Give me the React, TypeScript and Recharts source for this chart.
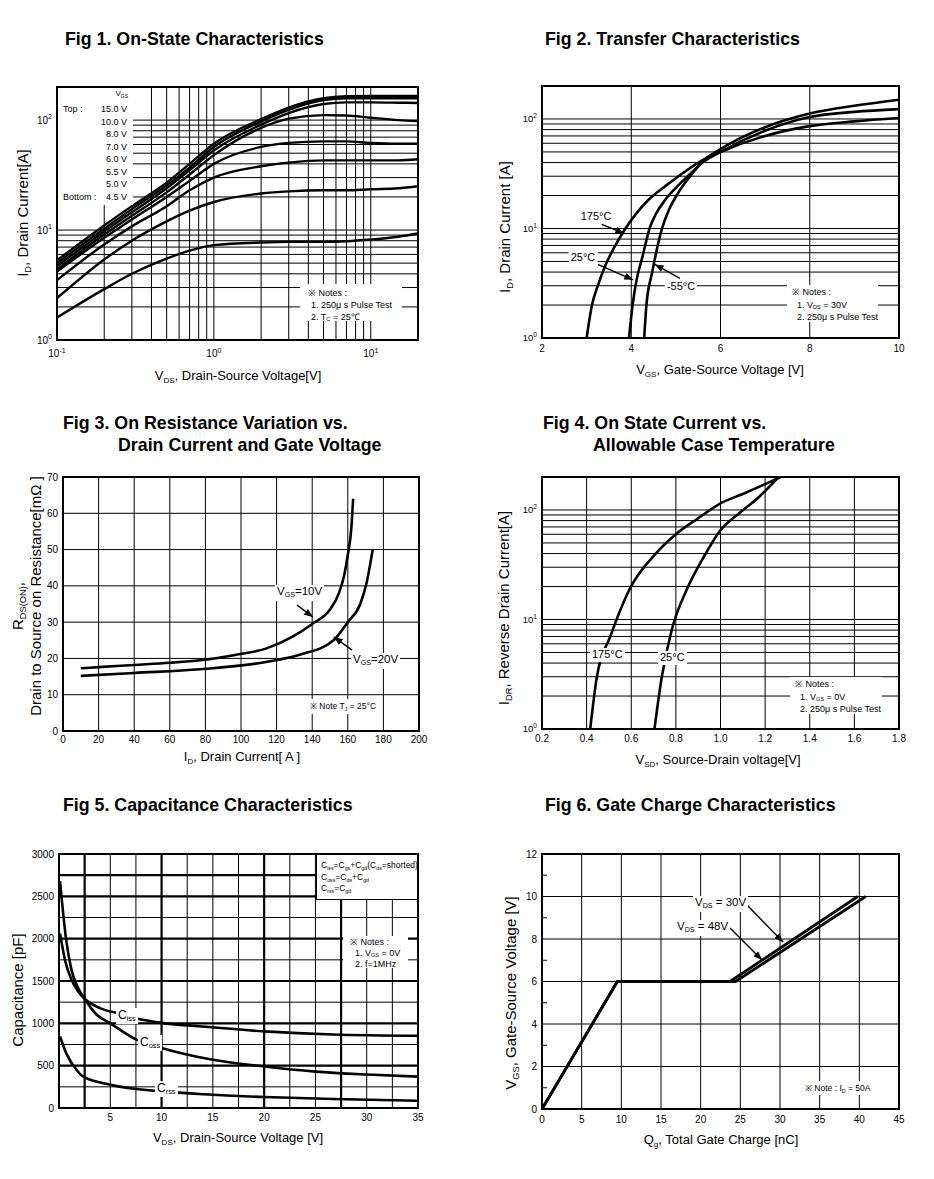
import React from "react";
import { LineChart, Line, XAxis, YAxis, ReferenceLine } from "recharts";

const FONT = "Arial, 'Liberation Sans', Helvetica, sans-serif";
const INK = "#000";

// ---- Fig 1: On-State Characteristics (log-log) ----
const F1_VDS = [0.1, 0.2, 0.3, 0.5, 0.7, 1, 2, 3, 5, 7, 10, 15, 20];
const F1_VGS = ["15.0 V", "10.0 V", "8.0 V", "7.0 V", "6.0 V", "5.5 V", "5.0 V", "4.5 V"];
const F1_ID_15V = [5.3, 11, 16.5, 27, 40, 61, 102, 130, 158, 165, 166, 166, 166];
const F1_ID_10V = [5.0, 10.3, 15.5, 25.5, 37, 57, 97, 124, 152, 158, 158, 158, 158];
const F1_ID_8V = [4.7, 9.7, 14.5, 24, 35, 53, 91, 116, 140, 145, 145, 144, 143];
const F1_ID_7V = [4.4, 9.1, 13.5, 22, 32, 48, 85, 103, 111, 110, 105, 100, 98];
const F1_ID_6V = [4.2, 8.5, 12.5, 20, 28, 40, 57, 62, 64, 64, 62, 61, 61];
const F1_ID_55V = [3.5, 7.4, 10.8, 16.5, 23, 30, 38, 41, 43, 43, 43, 43, 44];
const F1_ID_5V = [2.4, 5.4, 8, 12, 15, 18, 21.5, 22.5, 23, 23, 23.5, 24, 25];
const F1_ID_45V = [1.6, 2.9, 4.0, 5.5, 6.5, 7.3, 7.7, 7.8, 7.8, 7.9, 8.2, 8.7, 9.3];
const F1_SERIES = [F1_ID_15V, F1_ID_10V, F1_ID_8V, F1_ID_7V, F1_ID_6V, F1_ID_55V, F1_ID_5V, F1_ID_45V];
const F1_X_TICKS = [0.1, 1, 10];
const F1_X_GRID = [0.2, 0.3, 0.4, 0.5, 0.6, 0.7, 0.8, 0.9, 1, 2, 3, 4, 5, 6, 7, 8, 9, 10];
const LOG_Y_TICKS = [1, 10, 100];
const LOG_Y_GRID = [2, 3, 4, 5, 6, 7, 8, 9, 10, 20, 30, 40, 50, 60, 70, 80, 90, 100];

// ---- Fig 2: Transfer Characteristics ----
const F2_VGS_175 = [3.0, 3.12, 3.25, 3.42, 3.6, 3.87, 4.1, 4.4, 4.8, 5.2, 5.6, 6, 7, 8, 9, 10];
const F2_ID_175 = [1, 2, 3, 4.6, 6.5, 10, 13.5, 18.5, 25, 33, 42, 50, 70, 86, 95, 102];
const F2_VGS_25 = [3.95, 4.03, 4.12, 4.25, 4.41, 4.55, 4.75, 5.0, 5.3, 5.6, 6, 7, 8, 9, 10];
const F2_ID_25 = [1, 2, 3.4, 5.5, 10, 13.5, 18, 23.5, 31, 40, 50, 78, 104, 116, 123];
const F2_VGS_M55 = [4.29, 4.34, 4.47, 4.69, 4.85, 5.0, 5.2, 5.4, 5.6, 6, 7, 8, 9, 10];
const F2_ID_M55 = [1, 2, 4, 10, 15, 19.5, 26, 33, 41, 53, 84, 112, 132, 150];
const F2_X_TICKS = [2, 4, 6, 8, 10];
const F2_X_GRID = [4, 6, 8];
const F2_X_MINOR = [3, 5, 7, 9];

// ---- Fig 3: On Resistance vs Drain Current ----
const F3_ID_10V = [10, 20, 40, 60, 77, 96, 114, 129, 140, 150, 155, 158, 160, 162, 163];
const F3_R_10V = [17.3, 17.6, 18.2, 18.8, 19.5, 20.9, 22.7, 26, 29.5, 33.5, 38, 43, 48.5, 56, 64];
const F3_ID_20V = [10, 40, 77, 114, 133, 152, 160, 167, 170.5, 174];
const F3_R_20V = [15.2, 16, 17, 19, 21, 25, 30, 35, 40.7, 50];
const F3_X_TICKS = [0, 20, 40, 60, 80, 100, 120, 140, 160, 180, 200];
const F3_Y_TICKS = [0, 10, 20, 30, 40, 50, 60, 70];

// ---- Fig 4: Body diode forward voltage ----
const F4_VSD_175 = [0.416, 0.446, 0.506, 0.596, 0.715, 0.8, 0.9, 1.0, 1.1, 1.2, 1.27];
const F4_IDR_175 = [1, 3, 7, 19.5, 41, 60, 84, 115, 140, 172, 200];
const F4_VSD_25 = [0.704, 0.737, 0.782, 0.849, 0.924, 0.999, 1.088, 1.17, 1.26];
const F4_IDR_25 = [1, 3, 8.1, 18.8, 37, 65, 95, 130, 200];
const F4_X_TICKS = [0.2, 0.4, 0.6, 0.8, 1.0, 1.2, 1.4, 1.6, 1.8];
const F4_X_MINOR = [0.3, 0.5, 0.7, 0.9, 1.1, 1.3, 1.5, 1.7];

// ---- Fig 5: Capacitance ----
const F5_VDS_ISS = [0.1, 0.6, 1.2, 1.85, 2.5, 4, 5.9, 7.5, 10, 13.7, 20, 26.7, 35];
const F5_CISS = [2060, 1740, 1520, 1380, 1290, 1180, 1115, 1060, 1005, 965, 905, 868, 853];
const F5_VDS_OSS = [0.1, 0.7, 1.2, 1.85, 2.5, 3.6, 5, 7.5, 10, 15, 20, 25, 30, 35];
const F5_COSS = [2680, 1985, 1640, 1420, 1290, 1110, 1000, 810, 710, 570, 490, 430, 395, 370];
const F5_VDS_RSS = [0.1, 0.7, 1.7, 2.34, 5, 10, 15, 20, 26.7, 35];
const F5_CRSS = [845, 648, 452, 373, 275, 196, 157, 130, 106, 86];
const F5_X_TICKS = [5, 10, 15, 20, 25, 30, 35];
const F5_Y_TICKS = [0, 500, 1000, 1500, 2000, 2500, 3000];
const F5_X_THICK = [2.5, 10, 20, 27.5];
const F5_X_THIN = [5, 7.5, 12.5, 15, 17.5, 22.5, 25, 30, 32.5];
const F5_Y_THICK = [500, 1000, 1500, 2000, 2500, 2750];
const F5_Y_THIN = [250, 750, 1250, 1750, 2250];

// ---- Fig 6: Gate Charge ----
const F6_QG_30V = [0, 9.5, 23.7, 39.8];
const F6_VGS_30V = [0, 6, 6, 10];
const F6_QG_48V = [0, 9.5, 24.4, 40.8];
const F6_VGS_48V = [0, 6, 6, 10];
const F6_X_TICKS = [0, 5, 10, 15, 20, 25, 30, 35, 40, 45];
const F6_Y_TICKS = [0, 2, 4, 6, 8, 10, 12];
const F6_X_MINOR = [2.5, 7.5, 12.5, 17.5, 22.5, 27.5, 32.5, 37.5, 42.5];
const F6_Y_MINOR = [1, 3, 5, 7, 9, 11];

type Box = { left: number; top: number; width: number; height: number };
const PAD_L = 50;
const PAD_R = 16;
const PAD_T = 4;
const PAD_B = 30;
const TITLE = 17.8;
const XLAB = 13;
const YLAB = 15;

const zip = (xs: number[], ys: number[]) => xs.map((x, i) => ({ x, y: ys[i] }));

const vGrid = (vals: number[], w = 1, id = "g") =>
  vals.map((v) => <ReferenceLine key={`${id}x${v}`} x={v} stroke={INK} strokeWidth={w} />);
const hGrid = (vals: number[], w = 1, id = "g") =>
  vals.map((v) => <ReferenceLine key={`${id}y${v}`} y={v} stroke={INK} strokeWidth={w} />);

const arrow = (a: number[], b: number[], k: string) => (
  <ReferenceLine
    key={k}
    segment={[{ x: a[0], y: a[1] }, { x: b[0], y: b[1] }]}
    shape={(p: any) => (
      <line x1={p.x1} y1={p.y1} x2={p.x2} y2={p.y2} stroke={INK} strokeWidth={1.4} markerEnd="url(#ah)" />
    )}
  />
);

const curve = (xs: number[], ys: number[], k: string, type: any = "monotone", w = 2.6) => (
  <Line
    key={k}
    data={zip(xs, ys)}
    dataKey="y"
    type={type}
    stroke={INK}
    strokeWidth={w}
    dot={false}
    isAnimationActive={false}
  />
);

const NoTick = () => null;

function Tick(props: any) {
  const { x, y, payload, side, pow, fs = 10, off = 14, dec } = props;
  const v = payload.value;
  const body = pow ? (
    <>
      10
      <tspan dy={-fs * 0.45} fontSize={fs * 0.7}>
        {Math.round(Math.log10(v))}
      </tspan>
    </>
  ) : dec ? (
    v.toFixed(dec)
  ) : (
    String(v)
  );
  if (side === "x") {
    return (
      <text x={x} y={y + off} textAnchor="middle" fontSize={fs} fontFamily={FONT} fill={INK}>
        {body}
      </text>
    );
  }
  return (
    <text x={x - 5} y={y + fs * 0.36} textAnchor="end" fontSize={fs} fontFamily={FONT} fill={INK}>
      {body}
    </text>
  );
}

function Plot({ box, children }: { box: Box; children: React.ReactNode }) {
  return (
    <div style={{ position: "absolute", left: box.left - PAD_L, top: box.top - PAD_T }}>
      <LineChart
        width={box.width + PAD_L + PAD_R}
        height={box.height + PAD_T + PAD_B}
        margin={{ top: PAD_T, right: PAD_R, bottom: 0, left: 0 }}
      >
        {children}
      </LineChart>
    </div>
  );
}

const axisCommon = {
  type: "number" as const,
  allowDataOverflow: true,
  tickLine: false,
  axisLine: false,
  tickSize: 0,
  tickMargin: 0,
  interval: 0 as const,
};

const Frame = ({ box }: { box: Box }) => (
  <div
    style={{
      position: "absolute",
      left: box.left - 1,
      top: box.top - 1,
      width: box.width + 2,
      height: box.height + 2,
      border: "2px solid #000",
      boxSizing: "border-box",
      pointerEvents: "none",
    }}
  />
);

const Sub = ({ children }: { children: React.ReactNode }) => (
  <span style={{ fontSize: "0.62em", position: "relative", top: "0.32em" }}>{children}</span>
);

function Txt({ x, y, size = 11, bg = false, center = false, bold = false, children }: any) {
  const pad = bg ? 2 : 0;
  return (
    <div
      style={{
        position: "absolute",
        left: x - pad,
        top: y - size * 0.6,
        fontSize: size,
        lineHeight: `${size * 1.2}px`,
        whiteSpace: "nowrap",
        fontWeight: bold ? 700 : 400,
        background: bg ? "#fff" : undefined,
        padding: `0 ${pad}px`,
        transform: center ? "translateX(-50%)" : undefined,
      }}
    >
      {children}
    </div>
  );
}

function VTxt({ x, y, size = YLAB, children }: any) {
  return (
    <div
      style={{
        position: "absolute",
        left: x,
        top: y,
        fontSize: size,
        lineHeight: `${size * 1.2}px`,
        whiteSpace: "nowrap",
        transform: "translate(-50%, -50%) rotate(-90deg)",
      }}
    >
      {children}
    </div>
  );
}

function WBox({ left, top, width, height, border = false }: any) {
  return (
    <div
      style={{
        position: "absolute",
        left,
        top,
        width,
        height,
        background: "#fff",
        border: border ? "1.5px solid #000" : undefined,
        boxSizing: "border-box",
      }}
    />
  );
}

// ---------------- Fig 1 ----------------
const B1: Box = { left: 57, top: 87, width: 361, height: 253 };
function Fig1() {
  return (
    <>
      <Plot box={B1}>
        <XAxis {...axisCommon} dataKey="x" scale="log" domain={[0.1, 20]} ticks={F1_X_TICKS} height={PAD_B} tick={<Tick side="x" pow off={17} />} />
        <YAxis {...axisCommon} scale="log" domain={[1, 200]} ticks={LOG_Y_TICKS} width={PAD_L} tick={<Tick side="y" pow />} />
        {vGrid(F1_X_GRID)}
        {hGrid(LOG_Y_GRID)}
        {F1_SERIES.map((ys, i) => curve(F1_VDS, ys, `f1${i}`, "monotone", 2.4))}
      </Plot>
      <Txt x={65} y={40} size={TITLE} bold>Fig 1. On-State Characteristics</Txt>
      <WBox left={57} top={87} width={76} height={118} />
      <div style={{ position: "absolute", left: 100, width: 28, top: 89, fontSize: 8, textAlign: "right" }}>
        V<Sub>GS</Sub>
      </div>
      {F1_VGS.map((v, i) => (
        <div
          key={v}
          style={{
            position: "absolute",
            left: 63,
            width: 64,
            top: 109 + i * 12.5 - 6,
            fontSize: 9,
            lineHeight: "12px",
            display: "flex",
            justifyContent: "space-between",
            whiteSpace: "nowrap",
          }}
        >
          <span>{i === 0 ? "Top :" : i === F1_VGS.length - 1 ? "Bottom :" : ""}</span>
          <span>{v}</span>
        </div>
      ))}
      <WBox left={300} top={284} width={102} height={37} />
      <Txt x={308} y={293} size={9}>※ Notes :</Txt>
      <Txt x={311} y={305} size={9}>1. 250μ s Pulse Test</Txt>
      <Txt x={311} y={317} size={9}>2. T<Sub>C</Sub> = 25℃</Txt>
      <Txt x={238} y={376} size={XLAB} center>
        V<Sub>DS</Sub>, Drain-Source Voltage[V]
      </Txt>
      <VTxt x={24} y={213}>
        I<Sub>D</Sub>, Drain Current[A]
      </VTxt>
      <Frame box={B1} />
    </>
  );
}

// ---------------- Fig 2 ----------------
const B2: Box = { left: 542, top: 86, width: 357, height: 252 };
function Fig2() {
  return (
    <>
      <Plot box={B2}>
        <XAxis {...axisCommon} dataKey="x" domain={[2, 10]} ticks={F2_X_TICKS} height={PAD_B} tick={<Tick side="x" off={14} />} />
        <XAxis {...axisCommon} xAxisId="m" domain={[2, 10]} ticks={F2_X_MINOR} mirror tickSize={5} tickLine={{ stroke: INK }} tick={<NoTick />} />
        <YAxis {...axisCommon} scale="log" domain={[1, 200]} ticks={LOG_Y_TICKS} width={PAD_L} tick={<Tick side="y" pow fs={9.5} />} />
        {vGrid(F2_X_GRID)}
        {hGrid(LOG_Y_GRID)}
        {curve(F2_VGS_175, F2_ID_175, "c175")}
        {curve(F2_VGS_25, F2_ID_25, "c25")}
        {curve(F2_VGS_M55, F2_ID_M55, "cm55")}
        {arrow([3.34, 10.9], [3.84, 9.0], "a1")}
        {arrow([3.25, 4.7], [4.04, 3.4], "a2")}
        {arrow([5.09, 3.5], [4.53, 4.7], "a3")}
      </Plot>
      <Txt x={545} y={40} size={TITLE} bold>Fig 2. Transfer Characteristics</Txt>
      <Txt x={596} y={217} size={11} center>175°C</Txt>
      <Txt x={585} y={258} size={11} center bg>25°C</Txt>
      <Txt x={683} y={287} size={11} center bg>-55°C</Txt>
      <WBox left={787} top={285} width={91} height={37} />
      <Txt x={792} y={292} size={9}>※ Notes :</Txt>
      <Txt x={797} y={305} size={9}>1. V<Sub>DS</Sub> = 30V</Txt>
      <Txt x={797} y={317} size={9}>2. 250μ s Pulse Test</Txt>
      <Txt x={720} y={370} size={XLAB} center>
        V<Sub>GS</Sub>, Gate-Source Voltage [V]
      </Txt>
      <VTxt x={506} y={227}>
        I<Sub>D</Sub>, Drain Current [A]
      </VTxt>
      <Frame box={B2} />
    </>
  );
}

// ---------------- Fig 3 ----------------
const B3: Box = { left: 63, top: 477, width: 356, height: 254 };
function Fig3() {
  return (
    <>
      <Plot box={B3}>
        <XAxis {...axisCommon} dataKey="x" domain={[0, 200]} ticks={F3_X_TICKS} height={PAD_B} tick={<Tick side="x" off={12} />} />
        <YAxis {...axisCommon} domain={[0, 70]} ticks={F3_Y_TICKS} width={PAD_L} tick={<Tick side="y" />} />
        {vGrid(F3_X_TICKS.slice(1, -1))}
        {hGrid(F3_Y_TICKS.slice(1, -1))}
        {curve(F3_ID_10V, F3_R_10V, "r10")}
        {curve(F3_ID_20V, F3_R_20V, "r20")}
        {arrow([131.5, 34.7], [140.4, 31.4], "a1")}
        {arrow([162.4, 22.3], [152.2, 25.9], "a2")}
      </Plot>
      <Txt x={63} y={424} size={TITLE} bold>Fig 3. On Resistance Variation vs.</Txt>
      <Txt x={118} y={446} size={TITLE} bold>Drain Current and Gate Voltage</Txt>
      <Txt x={277} y={592} size={11.5} bg>V<Sub>GS</Sub>=10V</Txt>
      <Txt x={353} y={660} size={11.5} bg>V<Sub>GS</Sub>=20V</Txt>
      <WBox left={305} top={699} width={77} height={15} />
      <Txt x={310} y={706} size={8.5}>※ Note T<Sub>J</Sub> = 25°C</Txt>
      <Txt x={242} y={757} size={XLAB} center>
        I<Sub>D</Sub>, Drain Current[ A ]
      </Txt>
      <VTxt x={19} y={606}>
        R<Sub>DS(ON)</Sub>,
      </VTxt>
      <VTxt x={36} y={596}>Drain to Source on Resistance[mΩ ]</VTxt>
      <Frame box={B3} />
    </>
  );
}

// ---------------- Fig 4 ----------------
const B4: Box = { left: 542, top: 477, width: 357, height: 252 };
function Fig4() {
  return (
    <>
      <Plot box={B4}>
        <XAxis {...axisCommon} dataKey="x" domain={[0.2, 1.8]} ticks={F4_X_TICKS} height={PAD_B} tick={<Tick side="x" off={13} dec={1} />} />
        <XAxis {...axisCommon} xAxisId="m" domain={[0.2, 1.8]} ticks={F4_X_MINOR} mirror tickSize={5} tickLine={{ stroke: INK }} tick={<NoTick />} />
        <YAxis {...axisCommon} scale="log" domain={[1, 200]} ticks={LOG_Y_TICKS} width={PAD_L} tick={<Tick side="y" pow fs={9.5} />} />
        {vGrid(F4_X_TICKS.slice(1, -1))}
        {hGrid(LOG_Y_GRID)}
        {curve(F4_VSD_175, F4_IDR_175, "d175")}
        {curve(F4_VSD_25, F4_IDR_25, "d25")}
      </Plot>
      <Txt x={543} y={424} size={TITLE} bold>Fig 4. On State Current vs.</Txt>
      <Txt x={593} y={446} size={TITLE} bold>Allowable Case Temperature</Txt>
      <Txt x={592} y={655} size={11} bg>175°C</Txt>
      <Txt x={660} y={658} size={11} bg>25°C</Txt>
      <WBox left={790} top={677} width={92} height={37} />
      <Txt x={795} y={684} size={9}>※ Notes :</Txt>
      <Txt x={800} y={697} size={9}>1. V<Sub>GS</Sub> = 0V</Txt>
      <Txt x={800} y={709} size={9}>2. 250μ s Pulse Test</Txt>
      <Txt x={718} y={760} size={XLAB} center>
        V<Sub>SD</Sub>, Source-Drain voltage[V]
      </Txt>
      <VTxt x={505} y={608}>
        I<Sub>DR</Sub>, Reverse Drain Current[A]
      </VTxt>
      <Frame box={B4} />
    </>
  );
}

// ---------------- Fig 5 ----------------
const B5: Box = { left: 59, top: 854, width: 359, height: 254 };
function Fig5() {
  return (
    <>
      <Plot box={B5}>
        <XAxis {...axisCommon} dataKey="x" domain={[0, 35]} ticks={F5_X_TICKS} height={PAD_B} tick={<Tick side="x" off={13} />} />
        <YAxis {...axisCommon} domain={[0, 3000]} ticks={F5_Y_TICKS} width={PAD_L} tick={<Tick side="y" />} />
        {vGrid(F5_X_THIN, 1, "t")}
        {hGrid(F5_Y_THIN, 1, "t")}
        {vGrid(F5_X_THICK, 2.2, "k")}
        {hGrid(F5_Y_THICK, 2.2, "k")}
        {curve(F5_VDS_ISS, F5_CISS, "iss")}
        {curve(F5_VDS_OSS, F5_COSS, "oss")}
        {curve(F5_VDS_RSS, F5_CRSS, "rss")}
      </Plot>
      <Txt x={63} y={806} size={TITLE} bold>Fig 5. Capacitance Characteristics</Txt>
      <WBox left={316} top={854} width={102} height={46} border />
      <Txt x={321} y={865} size={8.5}>
        C<Sub>iss</Sub>=C<Sub>gs</Sub>+C<Sub>gd</Sub>(C<Sub>ds</Sub>=shorted)
      </Txt>
      <Txt x={321} y={877} size={8.5}>
        C<Sub>oss</Sub>=C<Sub>ds</Sub>+C<Sub>gd</Sub>
      </Txt>
      <Txt x={321} y={888} size={8.5}>
        C<Sub>rss</Sub>=C<Sub>gd</Sub>
      </Txt>
      <WBox left={343} top={936} width={65} height={32} />
      <Txt x={350} y={942} size={9}>※ Notes :</Txt>
      <Txt x={355} y={953} size={9}>1. V<Sub>GS</Sub> = 0V</Txt>
      <Txt x={355} y={964} size={9}>2. f=1MHz</Txt>
      <Txt x={118} y={1015} size={12} bg>C<Sub>iss</Sub></Txt>
      <Txt x={140} y={1042} size={12} bg>C<Sub>oss</Sub></Txt>
      <Txt x={157} y={1088} size={12} bg>C<Sub>rss</Sub></Txt>
      <Txt x={238} y={1138} size={XLAB} center>
        V<Sub>DS</Sub>, Drain-Source Voltage [V]
      </Txt>
      <VTxt x={18} y={990}>Capacitance [pF]</VTxt>
      <Frame box={B5} />
    </>
  );
}

// ---------------- Fig 6 ----------------
const B6: Box = { left: 542, top: 854, width: 357, height: 255 };
function Fig6() {
  return (
    <>
      <Plot box={B6}>
        <XAxis {...axisCommon} dataKey="x" domain={[0, 45]} ticks={F6_X_TICKS} height={PAD_B} tick={<Tick side="x" off={14} />} />
        <XAxis {...axisCommon} xAxisId="m" domain={[0, 45]} ticks={F6_X_MINOR} mirror tickSize={5} tickLine={{ stroke: INK }} tick={<NoTick />} />
        <YAxis {...axisCommon} domain={[0, 12]} ticks={F6_Y_TICKS} width={PAD_L} tick={<Tick side="y" />} />
        <YAxis {...axisCommon} yAxisId="m" domain={[0, 12]} ticks={F6_Y_MINOR} mirror tickSize={5} tickLine={{ stroke: INK }} tick={<NoTick />} />
        {vGrid(F6_X_TICKS.slice(1, -1))}
        {hGrid(F6_Y_TICKS.slice(1, -1))}
        {curve(F6_QG_30V, F6_VGS_30V, "q30", "linear", 2.8)}
        {curve(F6_QG_48V, F6_VGS_48V, "q48", "linear", 2.8)}
        {arrow([25.6, 9.69], [30.38, 7.86], "a1")}
        {arrow([23.7, 8.52], [27.73, 7.01], "a2")}
      </Plot>
      <Txt x={545} y={806} size={TITLE} bold>Fig 6. Gate Charge Characteristics</Txt>
      <Txt x={695} y={903} size={11.5} bg>V<Sub>DS</Sub> = 30V</Txt>
      <Txt x={677} y={927} size={11.5} bg>V<Sub>DS</Sub> = 48V</Txt>
      <WBox left={800} top={1081} width={77} height={14} />
      <Txt x={805} y={1088} size={8.5}>※ Note : I<Sub>D</Sub> = 50A</Txt>
      <Txt x={721} y={1140} size={XLAB} center>
        Q<Sub>g</Sub>, Total Gate Charge [nC]
      </Txt>
      <VTxt x={512} y={993}>
        V<Sub>GS</Sub>, Gate-Source Voltage [V]
      </VTxt>
      <Frame box={B6} />
    </>
  );
}

export default function App() {
  return (
    <div
      style={{
        position: "absolute",
        left: 0,
        top: 0,
        width: 934,
        height: 1179,
        background: "#fff",
        fontFamily: FONT,
        color: INK,
        overflow: "hidden",
      }}
    >
      <svg width={0} height={0} style={{ position: "absolute" }}>
        <defs>
          <marker
            id="ah"
            viewBox="0 0 10 8"
            refX={10}
            refY={4}
            markerWidth={9}
            markerHeight={7}
            markerUnits="userSpaceOnUse"
            orient="auto"
          >
            <path d="M0,0 L10,4 L0,8 Z" fill={INK} />
          </marker>
        </defs>
      </svg>
      <Fig1 />
      <Fig2 />
      <Fig3 />
      <Fig4 />
      <Fig5 />
      <Fig6 />
    </div>
  );
}
